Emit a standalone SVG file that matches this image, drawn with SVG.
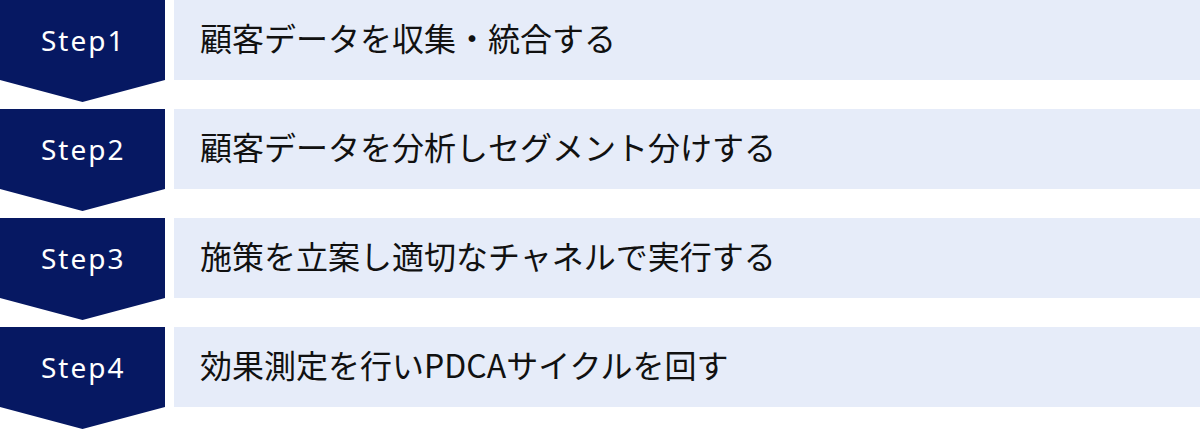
<svg xmlns="http://www.w3.org/2000/svg" width="1200" height="429" viewBox="0 0 1200 429">
<style>
.step{fill:#061862}
.bar{fill:#E6ECF9}
.lbl{font-family:"Noto Sans","Noto Sans CJK JP",sans-serif;font-size:28px;fill:#ffffff;letter-spacing:2px}
.txt{font-family:"Noto Sans CJK JP","Noto Sans",sans-serif;font-size:32px;fill:#111111}
</style>
<rect width="1200" height="429" fill="#ffffff"/>
<g id="step1">
<polygon class="step" points="0,0 165,0 165,80 82.5,102 0,80"/>
<text class="lbl" x="41" y="51">Step1</text>
<rect class="bar" x="174" y="0" width="1026" height="80"/>
<text class="txt" x="200" y="51">顧客データを収集・統合する</text>
</g>
<g id="step2">
<polygon class="step" points="0,109 165,109 165,189 82.5,211 0,189"/>
<text class="lbl" x="41" y="160">Step2</text>
<rect class="bar" x="174" y="109" width="1026" height="80"/>
<text class="txt" x="200" y="160">顧客データを分析しセグメント分けする</text>
</g>
<g id="step3">
<polygon class="step" points="0,218 165,218 165,298 82.5,320 0,298"/>
<text class="lbl" x="41" y="269">Step3</text>
<rect class="bar" x="174" y="218" width="1026" height="80"/>
<text class="txt" x="200" y="269">施策を立案し適切なチャネルで実行する</text>
</g>
<g id="step4">
<polygon class="step" points="0,327 165,327 165,407 82.5,429 0,407"/>
<text class="lbl" x="41" y="378">Step4</text>
<rect class="bar" x="174" y="327" width="1026" height="80"/>
<text class="txt" x="200" y="378">効果測定を行いPDCAサイクルを回す</text>
</g>
<g id="connectors"></g>
</svg>
